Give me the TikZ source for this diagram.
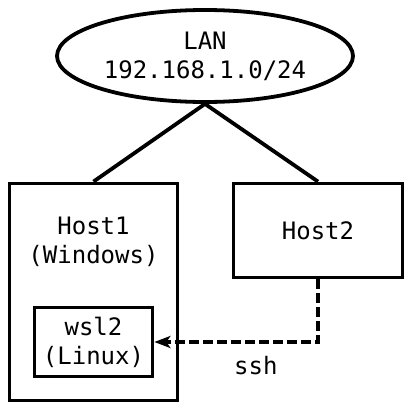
\documentclass[tikz,border=0pt]{standalone}
\usepackage{fontspec}
\setmonofont{DejaVu Sans Mono}
\usetikzlibrary{shapes.geometric,arrows.meta,positioning}
\tikzset{
	net/.style={
		ellipse,
		draw
	}
}

\begin{document}
\begin{tikzpicture}[font=\ttfamily\fontsize{12}{14.5}\selectfont]
		\tikzstyle{main}=[line width=1.9pt, draw=black, inner sep=0pt, align=center]
		\tikzstyle{connect}=[line width=1.9pt]
		\tikzstyle{box}=[rectangle, main]
		\useasboundingbox (0,0) rectangle (206.5pt,-206pt);
		\node[main] (lan) [net, minimum width=148pt, minimum height=46pt] at (102.5pt,-28pt) {LAN\\192.168.1.0/24};
		\node[box] (host1) [minimum width=84pt, minimum height=108.5pt] at (46.75pt,-146pt) {};
		\node[align=center] (host1txt) at (46.75pt,-121pt) {Host1\\(Windows)};
		\node[box] (host2) [minimum width=84.5pt, minimum height=47pt] at (159pt,-115.25pt) {Host2};
		\node[box] (wsl) [minimum width=59pt, minimum height=34.5pt] at (46.75pt,-171pt) {wsl2\\(Linux)};
		
		\path
		(lan.south) edge [connect] (host1.north)
		(lan.south) edge [connect] (host2.north)
		;
		
		\draw [connect, dash pattern=on 4.7pt off 2.3pt, -{Stealth[length=8pt,width=6pt,inset=2pt]}]
		(host2.south) |- (wsl.east) node [pos=0.69, below=3pt] (ssh) {ssh};
		
		\end{tikzpicture}
\end{document}
